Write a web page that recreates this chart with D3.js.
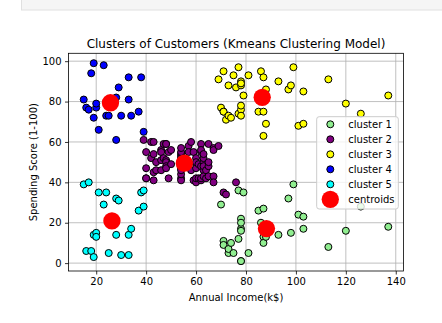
<!DOCTYPE html>
<html>
<head>
<meta charset="utf-8">
<script src="https://cdn.jsdelivr.net/npm/d3@7"></script>
<style>
  html, body { margin: 0; padding: 0; background: #fff; }
  svg { display: block; font-family: "DejaVu Sans", sans-serif; }
</style>
</head>
<body>
<svg id="chart" width="442" height="323"></svg>
<script>
// ---- Data (Annual Income k$, Spending Score) per cluster ----
const clusterNames = ["cluster 1", "cluster 2", "cluster 3", "cluster 4", "cluster 5"];
const clusterColors = ["#90ee90", "#800080", "#ffff00", "#0000ff", "#00ffff"];

const cluster1Income = [70,71,71,73,73,74,75,77,77,78,78,78,78,78,78,79,81,85,86,87,87,87,88,88,93,97,98,99,101,103,103,113,120,126,137];
const cluster1Score  = [29,11,9,5,7,10,5,12,36,22,17,20,16,1,1,35,5,26,20,27,13,10,13,15,14,32,15,39,24,17,23,8,16,28,18];

const cluster2Income = [39,40,40,40,40,42,42,43,43,43,43,44,44,46,46,46,46,47,47,48,48,48,48,48,48,49,49,50,50,54,54,54,54,54,54,54,54,54,54,54,54,57,57,58,58,59,59,60,60,60,60,60,60,61,61,62,62,62,62,62,62,63,63,63,63,63,63,64,64,65,65,65,65,67,67,67,67,69,71,72,76];
const cluster2Score  = [61,55,47,42,42,52,60,54,60,45,41,50,46,51,46,56,55,52,59,51,59,50,48,59,47,55,42,49,56,47,54,53,48,52,42,51,55,41,44,57,46,58,55,60,46,55,41,49,40,42,52,47,50,42,49,41,48,59,55,56,42,50,46,43,48,52,54,42,46,48,50,43,59,43,57,56,40,58,35,34,40];

const cluster3Income = [69,70,71,71,71,72,73,73,74,75,76,77,77,78,78,78,78,78,78,79,81,85,86,87,87,87,88,88,93,97,98,99,101,103,103,113,120,126,137];
const cluster3Score  = [91,77,95,75,75,71,88,73,72,93,87,97,74,90,88,76,89,78,73,83,93,75,95,63,75,92,86,69,90,86,88,97,68,85,69,91,79,74,83];

const cluster4Income = [15,16,17,18,19,19,20,20,21,23,24,25,28,28,29,30,33,33,34,37,38,39];
const cluster4Score  = [81,77,76,94,72,99,77,79,66,98,73,73,82,61,87,73,92,81,73,75,92,65];

const cluster5Income = [15,16,17,18,19,19,20,20,21,23,24,25,28,28,29,30,33,33,34,37,38,39,39];
const cluster5Score  = [39,6,40,6,3,14,15,13,35,29,35,5,14,32,31,4,4,14,17,26,35,36,28];

const centroidIncome = [88.2, 55.3, 86.5, 25.7, 26.3];
const centroidScore  = [17.1, 49.5, 82.1, 79.4, 20.9];

const xTicks = [20, 40, 60, 80, 100, 120, 140];
const yTicks = [0, 20, 40, 60, 80, 100];

const titleText = "Clusters of Customers (Kmeans Clustering Model)";
const xLabel = "Annual Income(k$)";
const yLabel = "Spending Score (1-100)";

const clusters = [
  [cluster1Income, cluster1Score],
  [cluster2Income, cluster2Score],
  [cluster3Income, cluster3Score],
  [cluster4Income, cluster4Score],
  [cluster5Income, cluster5Score]
];

// ---- Layout ----
const svg = d3.select("#chart");
const L = 68.5, R = 403.5, T = 53.3, B = 271;

// notebook-style gray bar at top
svg.append("rect").attr("x", 21.5).attr("y", -2).attr("width", 440).attr("height", 12)
  .attr("fill", "#f5f5f5").attr("stroke", "#e0e0e0").attr("stroke-width", 1);

const x = d3.scaleLinear().domain([8.9, 143.1]).range([L, R]);
const y = d3.scaleLinear().domain([-3.9, 103.9]).range([B, T]);

// grid
const grid = svg.append("g");
grid.selectAll("line.gx").data(xTicks).join("line")
  .attr("x1", d => x(d)).attr("x2", d => x(d)).attr("y1", T).attr("y2", B)
  .attr("stroke", "#b0b0b0").attr("stroke-width", 0.8);
grid.selectAll("line.gy").data(yTicks).join("line")
  .attr("y1", d => y(d)).attr("y2", d => y(d)).attr("x1", L).attr("x2", R)
  .attr("stroke", "#b0b0b0").attr("stroke-width", 0.8);

// points
const pts = svg.append("g");
clusters.forEach((c, i) => {
  const data = c[0].map((v, j) => [v, c[1][j]]);
  pts.append("g").selectAll("circle").data(data).join("circle")
    .attr("cx", d => x(d[0])).attr("cy", d => y(d[1])).attr("r", 3.5)
    .attr("fill", clusterColors[i]).attr("stroke", "#000").attr("stroke-width", 1);
});
pts.append("g").selectAll("circle").data(centroidIncome.map((v, j) => [v, centroidScore[j]])).join("circle")
  .attr("cx", d => x(d[0])).attr("cy", d => y(d[1])).attr("r", 8.66)
  .attr("fill", "#ff0000");

// axes
const xAxis = d3.axisBottom(x).tickValues(xTicks).tickSize(3.5).tickPadding(3.5).tickFormat(d3.format("d"));
const yAxis = d3.axisLeft(y).tickValues(yTicks).tickSize(3.5).tickPadding(3.5).tickFormat(d3.format("d"));
const gx = svg.append("g").attr("transform", `translate(0,${B})`).call(xAxis);
const gy = svg.append("g").attr("transform", `translate(${L},0)`).call(yAxis);
[gx, gy].forEach(g => {
  g.select(".domain").remove();
  g.selectAll(".tick line").attr("stroke", "#000").attr("stroke-width", 0.8);
  g.selectAll(".tick text").attr("fill", "#000").attr("font-size", 10).attr("font-family", "DejaVu Sans");
});

// frame
svg.append("rect").attr("x", L).attr("y", T).attr("width", R - L).attr("height", B - T)
  .attr("fill", "none").attr("stroke", "#000").attr("stroke-width", 0.8);

// title & labels
svg.append("text").attr("x", (L + R) / 2).attr("y", 47.5).attr("text-anchor", "middle")
  .attr("font-size", 12).attr("fill", "#000").text(titleText);
svg.append("text").attr("x", (L + R) / 2).attr("y", 300.5).attr("text-anchor", "middle")
  .attr("font-size", 10).attr("fill", "#000").text(xLabel);
svg.append("text").attr("transform", `translate(36.5,${(T + B) / 2}) rotate(-90)`).attr("text-anchor", "middle")
  .attr("font-size", 10).attr("fill", "#000").text(yLabel);

// legend
const lg = svg.append("g");
lg.append("rect").attr("x", 316.7).attr("y", 116.7).attr("width", 81.6).attr("height", 92.3)
  .attr("rx", 2.5).attr("fill", "#fff").attr("fill-opacity", 0.8)
  .attr("stroke", "#cccccc").attr("stroke-width", 1);
const legendItems = clusterNames.map((n, i) => ({ name: n, color: clusterColors[i], r: 3.5, edge: true }))
  .concat([{ name: "centroids", color: "#ff0000", r: 8.66, edge: false }]);
legendItems.forEach((it, i) => {
  const cy = 124.3 + i * 15;
  lg.append("circle").attr("cx", 330.3).attr("cy", cy).attr("r", it.r)
    .attr("fill", it.color).attr("stroke", it.edge ? "#000" : "none").attr("stroke-width", 1);
  lg.append("text").attr("x", 348.3).attr("y", cy).attr("dy", "0.35em")
    .attr("font-size", 10).attr("fill", "#000").text(it.name);
});
</script>
</body>
</html>
